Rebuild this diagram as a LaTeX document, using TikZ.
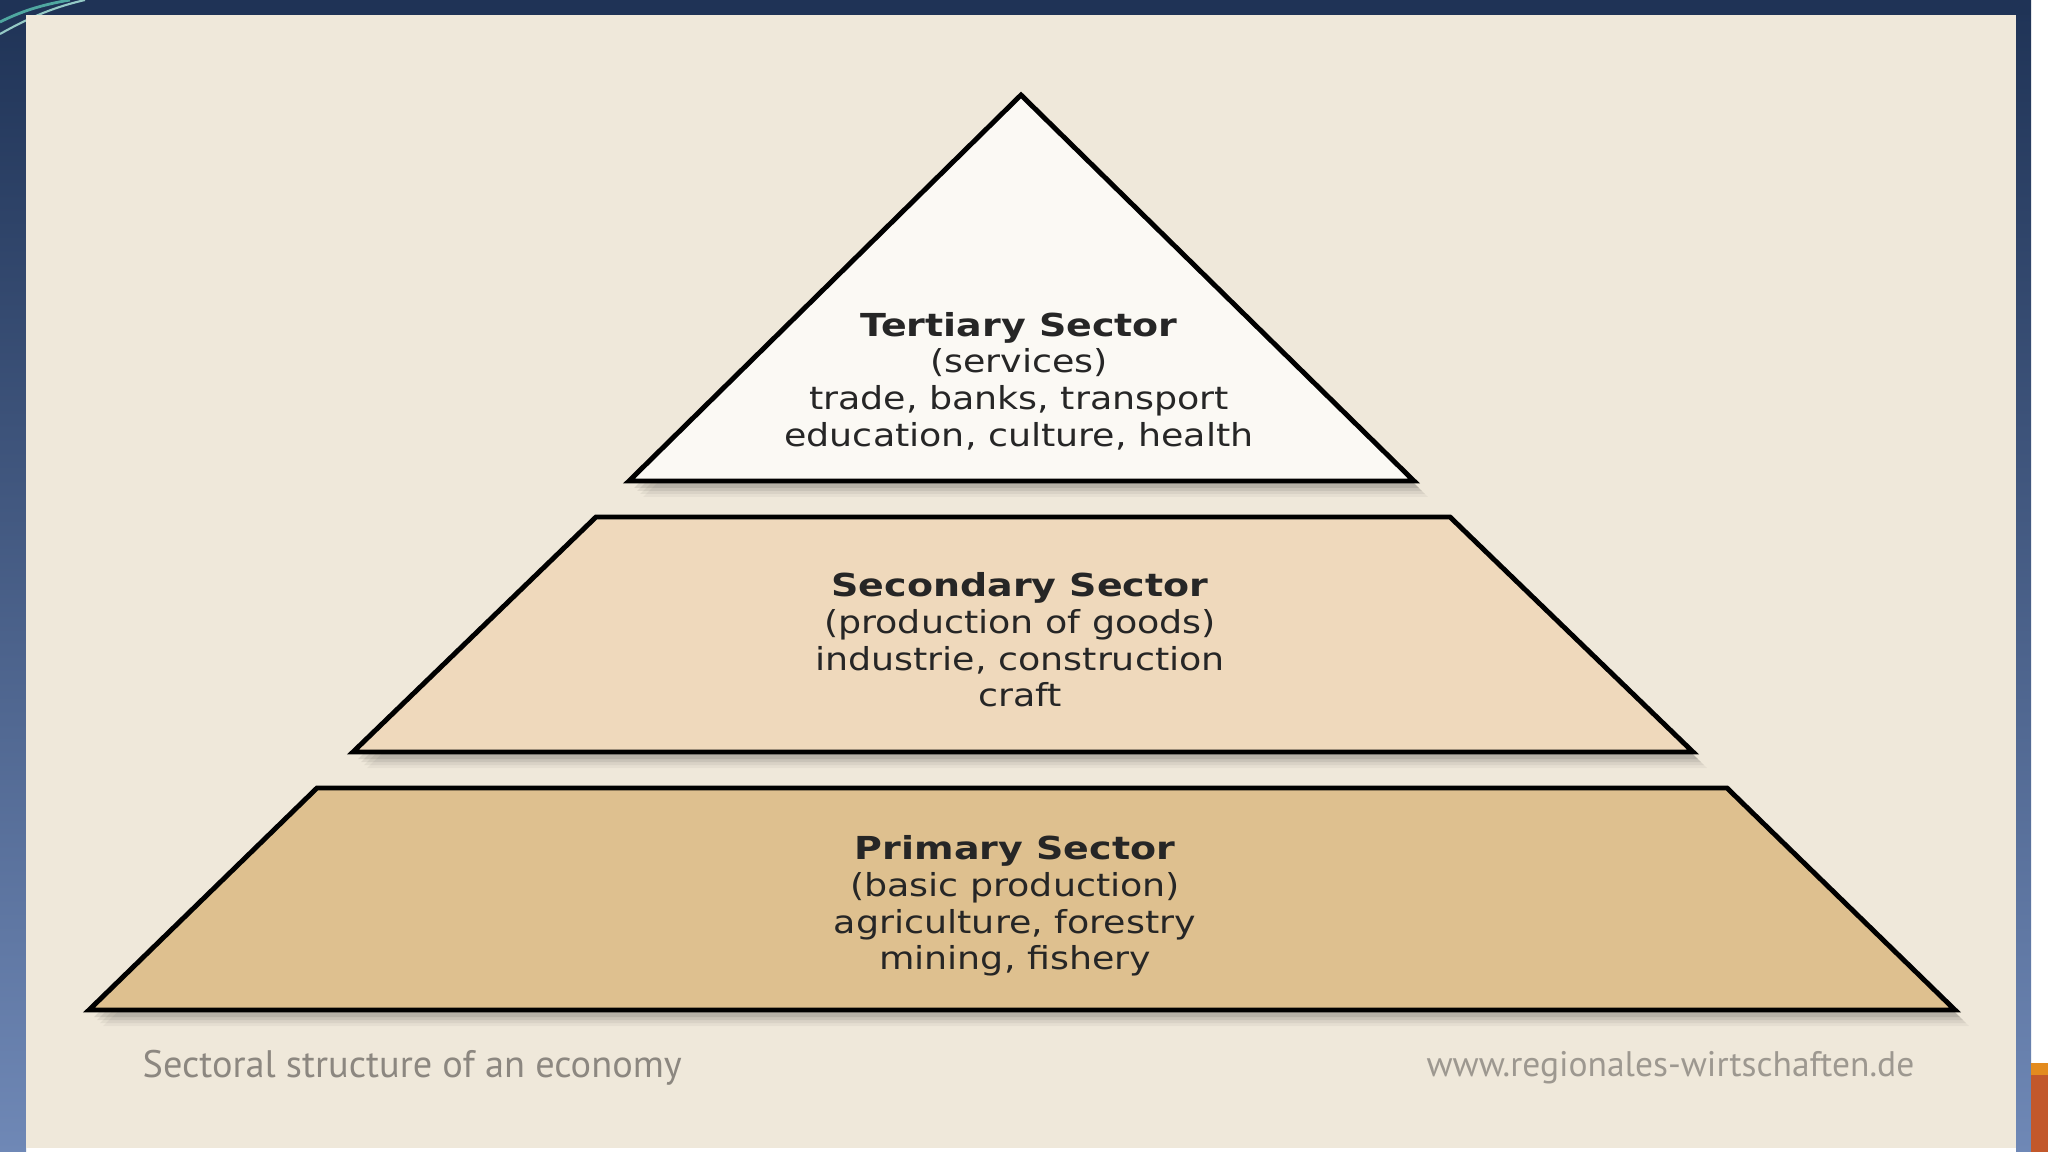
\documentclass[tikz,border=0pt]{standalone}
\usepackage{fontspec}
\newfontfamily\pyrfont[FakeStretch=1.15]{DejaVu Sans}
\newfontfamily\pyrbold[FakeStretch=1.2]{DejaVu Sans Bold}
\newfontfamily\capfont{PT Sans}
\definecolor{panel}{HTML}{EFE8DA}
\definecolor{navy}{HTML}{1F3356}
\definecolor{navylight}{HTML}{6F88B6}
\definecolor{tertfill}{HTML}{FBF9F4}
\definecolor{secfill}{HTML}{EFD9BC}
\definecolor{primfill}{HTML}{DEC08F}
\definecolor{capgray}{HTML}{8C8780}
\definecolor{urlgray}{HTML}{9D9890}
\definecolor{tealc}{HTML}{4FA7A0}
\definecolor{orangeA}{HTML}{E38B1F}
\definecolor{orangeB}{HTML}{C2582B}
\tikzset{
  tier/.style={draw=black, line width=1.4pt, line join=miter},
  tiertext/.style={align=center, font=\pyrfont\fontsize{9}{10.4}\selectfont, text=black!85},
  captext/.style={font=\capfont\fontsize{10.9}{12}\selectfont, inner sep=0pt},
  urltext/.style={font=\capfont\fontsize{10.1}{12}\selectfont, inner sep=0pt},
  shadowlayer/.style={fill=black, draw=none},
}
\begin{document}
\begin{tikzpicture}[x=0.01cm, y=-0.01cm]
\useasboundingbox (0,0) rectangle (2048,1152);
% slide background
\fill[white] (0,0) rectangle (2048,1152);
\shade[top color=navy, bottom color=navylight] (0,0) rectangle (26,1152);
\shade[top color=navy, bottom color=navylight] (2016,0) rectangle (2031,1152);
\fill[navy] (0,0) rectangle (2031,15);
\draw[tealc, line width=0.8pt] (0,22) .. controls (20,12) and (40,5) .. (70,0);
\draw[tealc!60, line width=0.6pt] (0,34) .. controls (25,20) and (50,8) .. (85,0);
\fill[orangeA] (2031,1063) rectangle (2048,1075);
\fill[orangeB] (2031,1075) rectangle (2048,1152);
% panel
\fill[panel] (26,15) rectangle (2016,1148);
% shadows
\foreach \dx/\dy/\op in {14/16/0.04, 11/13/0.05, 8/10/0.07, 5/7/0.09} {
  \fill[shadowlayer, opacity=\op, shift={(\dx,\dy)}] (1021,95) -- (1414,481) -- (629,481) -- cycle;
  \fill[shadowlayer, opacity=\op, shift={(\dx,\dy)}] (596,517) -- (1450,517) -- (1693,752) -- (353,752) -- cycle;
  \fill[shadowlayer, opacity=\op, shift={(\dx,\dy)}] (317,788) -- (1727,788) -- (1955,1010) -- (89,1010) -- cycle;
}
% tiers
\draw[tier, fill=tertfill] (1021,95) -- (1414,481) -- (629,481) -- cycle;
\draw[tier, fill=secfill] (596,517) -- (1450,517) -- (1693,752) -- (353,752) -- cycle;
\draw[tier, fill=primfill] (317,788) -- (1727,788) -- (1955,1010) -- (89,1010) -- cycle;
% texts
\node[tiertext] (tert) at (1019,381) {{\pyrbold Tertiary Sector}\\(services)\\trade, banks, transport\\education, culture, health};
\node[tiertext] (sec) at (1020,640) {{\pyrbold Secondary Sector}\\(production of goods)\\industrie, construction\\craft};
\node[tiertext] (prim) at (1015,906) {{\pyrbold Primary Sector}\\(basic production)\\agriculture, forestry\\mining, fishery};
% captions
\node[captext, text=capgray, anchor=west] (cap) at (142,1068) {Sectoral structure of an economy};
\node[urltext, text=urlgray, anchor=east] (url) at (1915,1068) {www.regionales-wirtschaften.de};
\end{tikzpicture}
\end{document}
